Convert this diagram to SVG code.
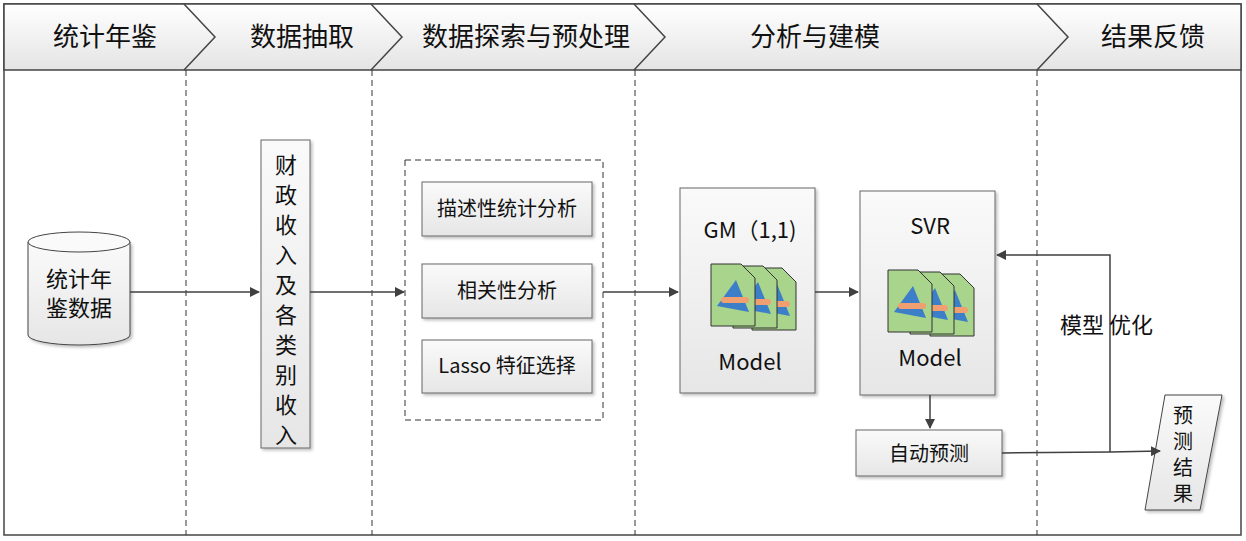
<svg xmlns="http://www.w3.org/2000/svg" width="1246" height="541" viewBox="0 0 1246 541">
<defs>
<linearGradient id="hg" x1="0" y1="0" x2="0" y2="1"><stop offset="0" stop-color="#ffffff"/><stop offset="1" stop-color="#e4e4e4"/></linearGradient>
<linearGradient id="bg" x1="0" y1="0" x2="0" y2="1"><stop offset="0" stop-color="#fafafa"/><stop offset="1" stop-color="#e6e6e6"/></linearGradient>
<marker id="ar" markerWidth="10" markerHeight="10" refX="9" refY="5" orient="auto" markerUnits="userSpaceOnUse"><path d="M0,0 L10,5 L0,10 z" fill="#404040"/></marker>
<g id="doc">
<path d="M0,0 h30 l14,14 v48 h-44 z" fill="#a8d48c" stroke="#333" stroke-width="1"/>
<path d="M6,42 L25,16 L38,48 z" fill="#3d7ec8"/>
<rect x="10" y="33" width="28" height="6" fill="#f0a070" rx="3"/>
</g>
<filter id="sh"><feDropShadow dx="2" dy="2" stdDeviation="1.5" flood-color="#000" flood-opacity="0.25"/></filter>
</defs>
<style>
text{font-family:"Microsoft YaHei","Noto Sans CJK SC",sans-serif;fill:#111}
.h{font-size:26px;text-anchor:middle}
.t{font-size:20px;text-anchor:middle}
.box{fill:url(#bg);stroke:#666;stroke-width:1;filter:url(#sh)}
.dash{stroke:#333;stroke-dasharray:6,4;fill:none}
.ln{stroke:#404040;stroke-width:1.5;fill:none}
</style>
<rect x="4" y="4" width="1237" height="531" fill="#fff" stroke="#444" stroke-width="1.5"/>
<g id="header">
<rect x="4" y="4" width="1237" height="66" fill="url(#hg)" stroke="#444" stroke-width="1.5"/>
<path d="M184,4 L215,37 L184,70 M371,4 L402,37 L371,70 M634,4 L665,37 L634,70 M1037,4 L1068,37 L1037,70" stroke="#444" stroke-width="1.5" fill="none"/>
<text class="h" x="105" y="46">统计年鉴</text>
<text class="h" x="302" y="46">数据抽取</text>
<text class="h" x="526" y="46">数据探索与预处理</text>
<text class="h" x="815" y="46">分析与建模</text>
<text class="h" x="1153" y="46">结果反馈</text>
</g>
<g id="lanes">
<line class="dash" x1="186" y1="70" x2="186" y2="535"/>
<line class="dash" x1="372" y1="70" x2="372" y2="535"/>
<line class="dash" x1="635" y1="70" x2="635" y2="535"/>
<line class="dash" x1="1037" y1="70" x2="1037" y2="535"/>
</g>
<g id="cyl">
<path d="M28,242 v93 a51,10 0 0 0 102,0 v-93" fill="url(#bg)" stroke="#444" filter="url(#sh)"/>
<ellipse cx="79" cy="242" rx="51" ry="10" fill="#fafafa" stroke="#444"/>
<text class="t" x="79" y="287" style="font-size:22px">统计年</text>
<text class="t" x="79" y="316" style="font-size:22px">鉴数据</text>
</g>
<g id="extract">
<rect class="box" x="261" y="140" width="49" height="308"/>
<text class="t" x="286" y="173" style="font-size:22px">财</text>
<text class="t" x="286" y="203" style="font-size:22px">政</text>
<text class="t" x="286" y="233" style="font-size:22px">收</text>
<text class="t" x="286" y="263" style="font-size:22px">入</text>
<text class="t" x="286" y="293" style="font-size:22px">及</text>
<text class="t" x="286" y="323" style="font-size:22px">各</text>
<text class="t" x="286" y="353" style="font-size:22px">类</text>
<text class="t" x="286" y="383" style="font-size:22px">别</text>
<text class="t" x="286" y="413" style="font-size:22px">收</text>
<text class="t" x="286" y="443" style="font-size:22px">入</text>
</g>
<g id="explore">
<rect class="dash" x="405" y="160" width="198" height="260"/>
<rect class="box" x="422" y="182" width="170" height="54"/>
<text class="t" x="507" y="216">描述性统计分析</text>
<rect class="box" x="422" y="264" width="170" height="54"/>
<text class="t" x="507" y="298">相关性分析</text>
<rect class="box" x="422" y="340" width="170" height="53"/>
<text class="t" x="507" y="373">Lasso 特征选择</text>
</g>
<g id="gm">
<rect class="box" x="680" y="188" width="135" height="205"/>
<text class="t" x="750" y="238" style="font-size:22px">GM（1,1)</text>
<use href="#doc" x="752" y="268"/><use href="#doc" x="733" y="266"/><use href="#doc" x="711" y="264"/>
<text class="t" x="750" y="370" style="font-size:22px">Model</text>
</g>
<g id="svr">
<rect class="box" x="860" y="191" width="135" height="204"/>
<text class="t" x="930" y="234" style="font-size:22px">SVR</text>
<use href="#doc" x="930" y="274"/><use href="#doc" x="910" y="272"/><use href="#doc" x="888" y="270"/>
<text class="t" x="930" y="366" style="font-size:22px">Model</text>
</g>
<g id="auto">
<rect class="box" x="856" y="430" width="146" height="46"/>
<text class="t" x="929" y="461">自动预测</text>
</g>
<g id="result">
<path d="M1165,395 L1222,395 L1200,510 L1145,510 z" fill="url(#bg)" stroke="#444" filter="url(#sh)"/>
<text class="t" x="1183" y="423">预</text>
<text class="t" x="1183" y="449">测</text>
<text class="t" x="1183" y="475">结</text>
<text class="t" x="1183" y="501">果</text>
</g>
<g id="connectors">
<line class="ln" x1="130" y1="292" x2="259" y2="292" marker-end="url(#ar)"/>
<line class="ln" x1="310" y1="292" x2="404" y2="292" marker-end="url(#ar)"/>
<line class="ln" x1="603" y1="292" x2="678" y2="292" marker-end="url(#ar)"/>
<line class="ln" x1="815" y1="292" x2="858" y2="292" marker-end="url(#ar)"/>
<line class="ln" x1="930" y1="395" x2="930" y2="428" marker-end="url(#ar)"/>
<polyline class="ln" points="1002,453 1110,452 1160,451" marker-end="url(#ar)"/>
<polyline class="ln" points="1110,452 1110,255 997,255" marker-end="url(#ar)"/>
</g>
<text x="1060" y="333" style="font-size:22px">模型  优化</text>
</svg>
